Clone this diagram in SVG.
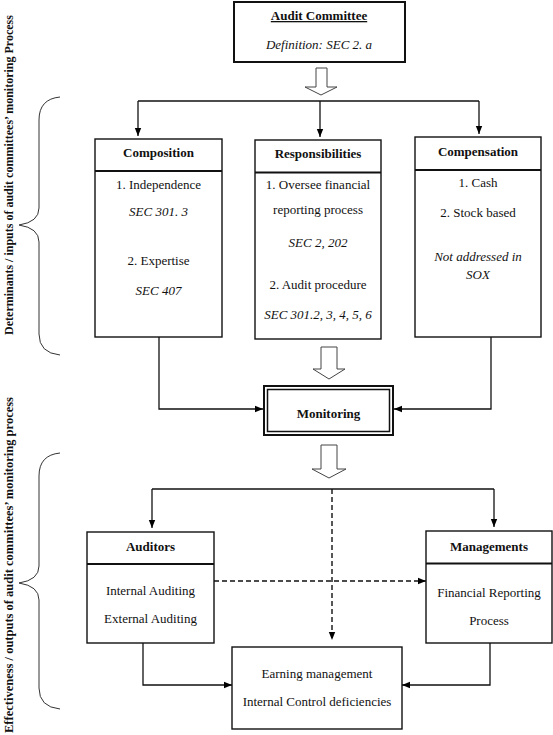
<svg xmlns="http://www.w3.org/2000/svg" width="553" height="735" viewBox="0 0 553 735">
<defs>
<marker id="ah" markerUnits="userSpaceOnUse" markerWidth="8" markerHeight="8" viewBox="0 0 8 8" refX="8" refY="4" orient="auto">
<path d="M0,0.8 L8,4 L0,7.2 Z" fill="#000"/>
</marker>
<style>
.box{fill:#fff;stroke:#111;stroke-width:1.4}
.hdr{stroke:#111;stroke-width:2.2}
.t{font-family:"Liberation Serif","Times New Roman",serif;font-size:13px;fill:#111;text-anchor:middle}
.b{font-weight:bold}
.i{font-style:italic}
.ln{fill:none;stroke:#111;stroke-width:1.3}
.dash{fill:none;stroke:#111;stroke-width:1.4;stroke-dasharray:5 3}
.hollow{fill:#fff;stroke:#444;stroke-width:1}
.brace{fill:none;stroke:#333;stroke-width:1}
.side{font-family:"Liberation Serif","Times New Roman",serif;font-weight:bold;fill:#111;text-anchor:middle}
</style>
</defs>
<rect width="553" height="735" fill="#fff"/>

<g id="side-labels">
<text class="side" font-size="12" transform="translate(12.5,175) rotate(-90)">Determinants / inputs of audit committees’ monitoring Process</text>
<path class="brace" d="M60,97 Q39,99 39,120 L39,208 Q39,222 19,225 Q39,228 39,242 L39,334 Q39,353 60,355"/>
<text class="side" font-size="12.5" transform="translate(13,565) rotate(-90)">Effectiveness / outputs of audit committees’ monitoring process</text>
<path class="brace" d="M60,453 Q39,455 39,476 L39,566 Q39,580 19,583 Q39,586 39,600 L39,688 Q39,707 60,709"/>
</g>

<g id="connectors">
<polygon class="hollow" points="316,68 327,68 327,87 337,87 321,95 305,87 316,87"/>
<polyline class="ln" points="138,101 479,101"/>
<line class="ln" x1="138" y1="101" x2="138" y2="136" marker-end="url(#ah)"/>
<line class="ln" x1="320" y1="101" x2="320" y2="137" marker-end="url(#ah)"/>
<line class="ln" x1="479" y1="101" x2="479" y2="134" marker-end="url(#ah)"/>
<polygon class="hollow" points="321,347 337,347 337,369 345,369 329,379 313,369 321,369"/>
<polyline class="ln" points="159,337 159,409 263,409" marker-end="url(#ah)"/>
<polyline class="ln" points="491,337 491,409 394,409" marker-end="url(#ah)"/>
<polygon class="hollow" points="321,445 337,445 337,469 346,469 329,478 312,469 321,469"/>
<polyline class="ln" points="152,489 494,489"/>
<line class="ln" x1="152" y1="489" x2="152" y2="528" marker-end="url(#ah)"/>
<line class="ln" x1="494" y1="489" x2="494" y2="527" marker-end="url(#ah)"/>
<line class="dash" x1="332" y1="489" x2="332" y2="640" marker-end="url(#ah)"/>
<line class="dash" x1="214" y1="581" x2="426" y2="581" marker-end="url(#ah)"/>
<polyline class="ln" points="143,643 143,685 232,685" marker-end="url(#ah)"/>
<polyline class="ln" points="490,643 490,685 402,685" marker-end="url(#ah)"/>
</g>

<g id="audit-committee">
<rect x="234" y="2" width="171" height="60" fill="#fff" stroke="#111" stroke-width="2"/>
<text class="t b" x="319" y="20" text-decoration="underline">Audit Committee</text>
<text class="t i" x="319" y="49">Definition: SEC 2. a</text>
</g>

<g id="composition">
<rect class="box" x="95" y="139" width="127" height="198"/>
<line class="hdr" x1="95" y1="171" x2="222" y2="171"/>
<text class="t b" x="158.5" y="157">Composition</text>
<text class="t" x="158.5" y="189">1. Independence</text>
<text class="t i" x="158.5" y="216">SEC 301. 3</text>
<text class="t" x="158.5" y="265">2. Expertise</text>
<text class="t i" x="158.5" y="295">SEC 407</text>
</g>

<g id="responsibilities">
<rect class="box" x="255" y="140" width="126" height="199"/>
<line class="hdr" x1="255" y1="172.5" x2="381" y2="172.5"/>
<text class="t b" x="318" y="158">Responsibilities</text>
<text class="t" x="318" y="189">1. Oversee financial</text>
<text class="t" x="318" y="214">reporting process</text>
<text class="t i" x="318" y="247">SEC 2, 202</text>
<text class="t" x="318" y="289">2. Audit procedure</text>
<text class="t i" x="318" y="319">SEC 301.2, 3, 4, 5, 6</text>
</g>

<g id="compensation">
<rect class="box" x="415" y="137" width="126" height="200"/>
<line class="hdr" x1="415" y1="170" x2="541" y2="170"/>
<text class="t b" x="478" y="156">Compensation</text>
<text class="t" x="478" y="187">1. Cash</text>
<text class="t" x="478" y="217">2. Stock based</text>
<text class="t i" x="478" y="261">Not addressed in</text>
<text class="t i" x="478" y="279">SOX</text>
</g>

<g id="monitoring">
<rect x="264" y="386" width="129" height="49" fill="#fff" stroke="#111" stroke-width="2"/>
<rect x="267.5" y="389.5" width="122" height="42" fill="none" stroke="#111" stroke-width="1.5"/>
<text class="t b" x="328.5" y="418">Monitoring</text>
</g>

<g id="auditors">
<rect class="box" x="87" y="532" width="127" height="111"/>
<line class="hdr" x1="87" y1="564" x2="214" y2="564"/>
<text class="t b" x="150.5" y="551">Auditors</text>
<text class="t" x="150.5" y="595">Internal Auditing</text>
<text class="t" x="150.5" y="623">External Auditing</text>
</g>

<g id="managements">
<rect class="box" x="426" y="531" width="126" height="112"/>
<line class="hdr" x1="426" y1="563.5" x2="552" y2="563.5"/>
<text class="t b" x="489" y="551">Managements</text>
<text class="t" x="489" y="597">Financial Reporting</text>
<text class="t" x="489" y="625">Process</text>
</g>

<g id="outcomes">
<rect class="box" x="232" y="647" width="170" height="82"/>
<text class="t" x="317" y="678">Earning management</text>
<text class="t" x="317" y="706">Internal Control deficiencies</text>
</g>
</svg>
